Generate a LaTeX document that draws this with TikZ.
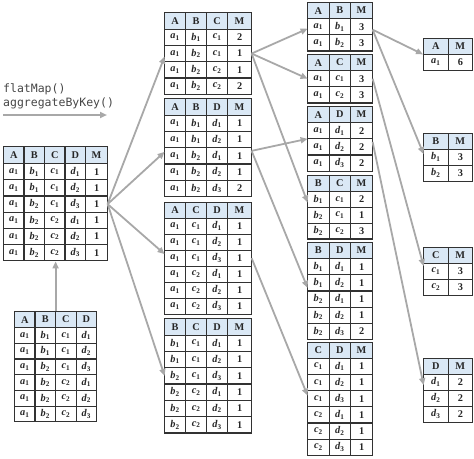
\documentclass[tikz,border=0pt]{standalone}
\usepackage{fontspec}
\setmainfont{Liberation Serif}
\newfontfamily\codefont{DejaVu Sans Mono}
\usetikzlibrary{matrix,arrows.meta}
\definecolor{hdr}{RGB}{218,232,245}
\definecolor{tline}{RGB}{50,50,50}
\definecolor{arrc}{RGB}{168,168,168}
\definecolor{codec}{RGB}{70,70,70}
\newcommand\cv[2]{\textit{#1}\textsubscript{#2}}
\tikzset{
 tbl/.style={matrix of nodes, inner sep=0pt, outer sep=0pt, column sep=-1.2pt, row sep=-1.2pt, anchor=north west,
   nodes={draw=tline, line width=1.2pt, inner sep=0pt, outer sep=0pt, anchor=center, minimum height=16.2pt, minimum width=21pt,
          font=\fontsize{10.3}{11}\selectfont\bfseries, text=black!85},
   row 1/.style={nodes={fill=hdr, minimum height=16pt}}},
 arr/.style={draw=arrc, line width=1.8pt, -{Triangle[length=7pt,width=6pt]}},
}
\begin{document}
\begin{tikzpicture}[x=1pt,y=-1pt]
\useasboundingbox (0,0) rectangle (474,458);
% label
\node[anchor=west, inner sep=0pt, align=left, text=codec, font={\fontsize{11.5}{14}\selectfont\codefont}] (lbl) at (3,96) {flatMap()\\aggregateByKey()};
\coordinate (fs) at (3,115);
\coordinate (fe) at (107,115);
\draw[arr] (fs) -- (fe);
% column 1
\matrix (T0) [tbl, nodes={minimum width=20.5pt}, column 5/.style={nodes={minimum width=22pt}}, row 1/.append style={nodes={minimum height=17pt}}] at (3,146) {
A & B & C & D & M \\
\cv a1 & \cv b1 & \cv c1 & \cv d1 & 1 \\
\cv a1 & \cv b1 & \cv c1 & \cv d2 & 1 \\
\cv a1 & \cv b2 & \cv c1 & \cv d3 & 1 \\
\cv a1 & \cv b2 & \cv c2 & \cv d1 & 1 \\
\cv a1 & \cv b2 & \cv c2 & \cv d2 & 1 \\
\cv a1 & \cv b2 & \cv c2 & \cv d3 & 1 \\
};
\matrix (TB) [tbl, nodes={minimum width=20.5pt, minimum height=15.7pt}] at (14,311) {
A & B & C & D \\
\cv a1 & \cv b1 & \cv c1 & \cv d1 \\
\cv a1 & \cv b1 & \cv c1 & \cv d2 \\
\cv a1 & \cv b2 & \cv c1 & \cv d3 \\
\cv a1 & \cv b2 & \cv c2 & \cv d1 \\
\cv a1 & \cv b2 & \cv c2 & \cv d2 \\
\cv a1 & \cv b2 & \cv c2 & \cv d3 \\
};
% column 2
\matrix (T1) [tbl, nodes={minimum height=16.3pt}, column 4/.style={nodes={minimum width=24pt}}, row 1/.append style={nodes={minimum height=16.5pt}}] at (164,12) {
A & B & C & M \\
\cv a1 & \cv b1 & \cv c1 & 2 \\
\cv a1 & \cv b2 & \cv c1 & 1 \\
\cv a1 & \cv b2 & \cv c2 & 1 \\
\cv a1 & \cv b2 & \cv c2 & 2 \\
};
\matrix (T2) [tbl, nodes={minimum height=16.3pt}, column 4/.style={nodes={minimum width=24pt}}, row 1/.append style={nodes={minimum height=16.5pt}}] at (164,98) {
A & B & D & M \\
\cv a1 & \cv b1 & \cv d1 & 1 \\
\cv a1 & \cv b1 & \cv d2 & 1 \\
\cv a1 & \cv b2 & \cv d1 & 1 \\
\cv a1 & \cv b2 & \cv d2 & 1 \\
\cv a1 & \cv b2 & \cv d3 & 2 \\
};
\matrix (T3) [tbl, nodes={minimum height=16pt}, column 4/.style={nodes={minimum width=24pt}}, row 1/.append style={nodes={minimum height=15.5pt}}] at (164,202) {
A & C & D & M \\
\cv a1 & \cv c1 & \cv d1 & 1 \\
\cv a1 & \cv c1 & \cv d2 & 1 \\
\cv a1 & \cv c1 & \cv d3 & 1 \\
\cv a1 & \cv c2 & \cv d1 & 1 \\
\cv a1 & \cv c2 & \cv d2 & 1 \\
\cv a1 & \cv c2 & \cv d3 & 1 \\
};
\matrix (T4) [tbl, nodes={minimum height=16.3pt}, column 4/.style={nodes={minimum width=24pt}}, row 1/.append style={nodes={minimum height=16.5pt}}] at (164,318) {
B & C & D & M \\
\cv b1 & \cv c1 & \cv d1 & 1 \\
\cv b1 & \cv c1 & \cv d2 & 1 \\
\cv b2 & \cv c1 & \cv d3 & 1 \\
\cv b2 & \cv c2 & \cv d1 & 1 \\
\cv b2 & \cv c2 & \cv d2 & 1 \\
\cv b2 & \cv c2 & \cv d3 & 1 \\
};
% column 3
\matrix (ABM) [tbl, nodes={minimum width=21.5pt}, column 3/.style={nodes={minimum width=22pt}}] at (307,2) {
A & B & M \\
\cv a1 & \cv b1 & 3 \\
\cv a1 & \cv b2 & 3 \\
};
\matrix (ACM) [tbl, nodes={minimum width=21.5pt}, column 3/.style={nodes={minimum width=22pt}}] at (307,54) {
A & C & M \\
\cv a1 & \cv c1 & 3 \\
\cv a1 & \cv c2 & 3 \\
};
\matrix (ADM) [tbl, nodes={minimum width=21.5pt}, column 3/.style={nodes={minimum width=22pt}}] at (307,106) {
A & D & M \\
\cv a1 & \cv d1 & 2 \\
\cv a1 & \cv d2 & 2 \\
\cv a1 & \cv d3 & 2 \\
};
\matrix (BCM) [tbl, nodes={minimum width=21.5pt, minimum height=15.8pt}, column 3/.style={nodes={minimum width=22pt}}] at (307,175) {
B & C & M \\
\cv b1 & \cv c1 & 2 \\
\cv b2 & \cv c1 & 1 \\
\cv b2 & \cv c2 & 3 \\
};
\matrix (BDM) [tbl, nodes={minimum width=21.5pt}, column 3/.style={nodes={minimum width=22pt}}] at (307,242) {
B & D & M \\
\cv b1 & \cv d1 & 1 \\
\cv b1 & \cv d2 & 1 \\
\cv b2 & \cv d1 & 1 \\
\cv b2 & \cv d2 & 1 \\
\cv b2 & \cv d3 & 2 \\
};
\matrix (CDM) [tbl, nodes={minimum width=21.5pt}, column 3/.style={nodes={minimum width=22pt}}, row 1/.append style={nodes={minimum height=15.5pt}}] at (307,342) {
C & D & M \\
\cv c1 & \cv d1 & 1 \\
\cv c1 & \cv d2 & 1 \\
\cv c1 & \cv d3 & 1 \\
\cv c2 & \cv d1 & 1 \\
\cv c2 & \cv d2 & 1 \\
\cv c2 & \cv d3 & 1 \\
};
% column 4
\matrix (AM) [tbl, nodes={minimum width=24.5pt, minimum height=16pt}, row 1/.append style={nodes={minimum height=15.5pt}}] at (423,38) {
A & M \\
\cv a1 & 6 \\
};
\matrix (BM) [tbl, nodes={minimum width=24.5pt, minimum height=16pt}, row 1/.append style={nodes={minimum height=15.5pt}}] at (423,133) {
B & M \\
\cv b1 & 3 \\
\cv b2 & 3 \\
};
\matrix (CM) [tbl, nodes={minimum width=24.5pt, minimum height=16pt}, row 1/.append style={nodes={minimum height=15.5pt}}] at (423,247) {
C & M \\
\cv c1 & 3 \\
\cv c2 & 3 \\
};
\matrix (DM) [tbl, nodes={minimum width=24.5pt, minimum height=16pt}, row 1/.append style={nodes={minimum height=15.5pt}}] at (423,358) {
D & M \\
\cv d1 & 2 \\
\cv d2 & 2 \\
\cv d3 & 2 \\
};
% arrows
\draw[arr] (TB.north) -- (T0.south);
\draw[arr] (T0-4-5.east) -- ([yshift=-3pt]T1-3-1.west);
\draw[arr] (T0-4-5.east) -- ([yshift=4pt]T2-4-1.west);
\draw[arr] (T0-4-5.east) -- ([yshift=4pt]T3-4-1.west);
\draw[arr] (T0-4-5.east) -- (T4-4-1.west);
\draw[arr] (T1-3-4.east) -- ([yshift=-2pt]ABM-2-1.west);
\draw[arr] (T1-3-4.east) -- (ACM-2-1.west);
\draw[arr] (T1-3-4.east) -- ([yshift=-3pt]BCM-2-1.west);
\draw[arr] ([yshift=5pt]T2-4-4.east) -- (ADM-2-1.south west);
\draw[arr] ([yshift=5pt]T2-4-4.east) -- ([yshift=-5pt]BDM-3-1.west);
\draw[arr] (T3-4-4.east) -- ([yshift=3pt]CDM-4-1.west);
\draw[arr] ([yshift=-3pt]ABM-2-3.east) -- (AM.west);
\draw[arr] ([yshift=-3pt]ABM-2-3.east) -- ([yshift=3pt]BM-2-1.west);
\draw[arr] (ACM-2-3.east) -- ([yshift=5pt]CM-2-1.west);
\draw[arr] ([yshift=5pt]ADM-3-3.east) -- ([yshift=-3pt]DM-2-1.west);
\end{tikzpicture}
\end{document}
